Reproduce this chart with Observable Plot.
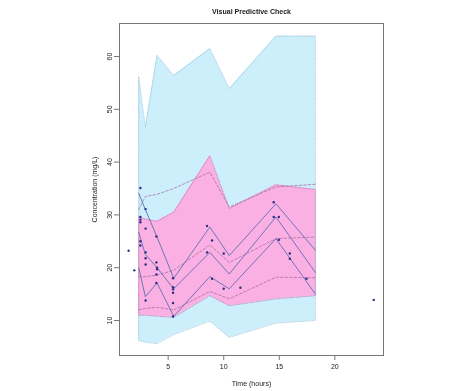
<!DOCTYPE html>
<html>
<head>
<meta charset="utf-8">
<script src="https://cdn.jsdelivr.net/npm/d3@7"></script>
<script src="https://cdn.jsdelivr.net/npm/@observablehq/plot@0.6"></script>
<style>
  html, body { margin: 0; padding: 0; background: #fff; }
  svg text { fill: #222; -webkit-font-smoothing: antialiased; }
  svg g[aria-label="text"], svg g[aria-label^="x-axis"], svg g[aria-label^="y-axis"] { filter: grayscale(1); }
</style>
</head>
<body>
<div id="chart"></div>
<script>
// Time bins (hours)
const binTimes = [2.35, 2.95, 4.0, 5.5, 8.75, 10.5, 14.7, 18.25];
// Outer (blue) prediction band
const blueLow  = [6.2, 5.9, 5.6, 7.3, 9.9, 6.8, 9.5, 10.0];
const blueHigh = [56.1, 46.6, 60.2, 56.4, 61.5, 53.9, 63.85, 63.85];
// Inner (pink) prediction band
const pinkLow  = [11.0, 11.0, 10.8, 10.6, 14.7, 12.8, 14.1, 14.7];
const pinkHigh = [29.6, 29.2, 28.8, 30.5, 41.2, 31.2, 35.7, 34.8];
// Simulated percentiles (dashed)
const simHigh = [31.0, 33.5, 33.9, 35.0, 38.1, 31.5, 35.3, 35.8];
const simMed  = [18.3, 18.3, 18.6, 19.5, 24.3, 21.0, 25.5, 25.8];
const simLow  = [12.0, 12.3, 12.5, 12.0, 15.5, 14.1, 18.2, 18.1];
// Observed percentiles (solid)
const obsHigh = [34.1, 31.0, 25.8, 18.0, 27.7, 22.3, 32.1, 23.3];
const obsMed  = [26.7, 22.5, 20.0, 16.0, 22.9, 18.8, 29.6, 19.1];
const obsLow  = [20.0, 14.5, 17.1, 10.8, 18.3, 16.0, 25.5, 15.0];
// Observations
const obsTime = [1.44, 1.95, 2.5, 2.97, 2.5, 2.5, 2.5, 2.97, 2.5, 2.5, 2.97, 2.97, 2.97, 2.97,
  3.94, 3.94, 4.0, 4.0, 3.94, 3.94, 5.44, 5.44, 5.44, 5.44, 5.44, 5.44,
  8.5, 8.95, 8.5, 8.95, 10.0, 10.0, 11.5, 14.5, 14.5, 14.96, 14.96, 15.95, 15.95, 17.45, 23.5];
const obsConc = [23.2, 19.5, 35.1, 31.1, 29.6, 29.1, 28.6, 27.4, 25.0, 24.2, 22.9, 21.8, 20.6, 13.8,
  25.9, 21.0, 20.0, 19.7, 18.7, 17.1, 18.0, 16.3, 15.9, 15.25, 13.3, 10.75,
  27.9, 25.15, 22.9, 17.9, 22.7, 16.0, 16.2, 32.4, 29.6, 29.6, 25.3, 22.7, 21.7, 17.9, 13.9];
const xTicks = [5, 10, 15, 20];
const yTicks = [10, 20, 30, 40, 50, 60];
const titleText = "Visual Predictive Check";

const bins = binTimes.map((t, i) => ({
  t, blueLow: blueLow[i], blueHigh: blueHigh[i], pinkLow: pinkLow[i], pinkHigh: pinkHigh[i],
  simHigh: simHigh[i], simMed: simMed[i], simLow: simLow[i],
  obsHigh: obsHigh[i], obsMed: obsMed[i], obsLow: obsLow[i]
}));
function polygon(lo, hi) {
  const up = binTimes.map((t, i) => ({t, v: hi[i]}));
  const dn = binTimes.map((t, i) => ({t, v: lo[i]})).reverse();
  return [...up, ...dn, up[0]];
}
const bluePoly = polygon(blueLow, blueHigh);
const pinkPoly = polygon(pinkLow, pinkHigh);
const obs = obsTime.map((t, i) => ({t, c: obsConc[i]}));

const font = "Liberation Sans, Arial, sans-serif";
const solidCol = "#5f6fae";
const dashCol = "#a0649f";

const chart = Plot.plot({
  width: 474,
  height: 391,
  marginLeft: 119,
  marginRight: 91,
  marginTop: 23,
  marginBottom: 36,
  style: {fontFamily: font, fontSize: "7px", color: "#222", background: "#fff"},
  x: {domain: [0.62, 24.38]},
  y: {domain: [3.37, 66.25]},
  marks: [
    Plot.areaY(bins, {x: "t", y1: "blueLow", y2: "blueHigh", fill: "#cdeefb"}),
    Plot.line(bluePoly, {x: "t", y: "v", stroke: "#9cc6dc", strokeWidth: 0.8, strokeDasharray: "1,1.5"}),
    Plot.areaY(bins, {x: "t", y1: "pinkLow", y2: "pinkHigh", fill: "#fab0e3"}),
    Plot.line(pinkPoly, {x: "t", y: "v", stroke: "#c27ab8", strokeWidth: 0.8, strokeDasharray: "1,1.5"}),
    Plot.lineY(bins, {x: "t", y: "simHigh", stroke: dashCol, strokeWidth: 0.7, strokeDasharray: "2.5,2"}),
    Plot.lineY(bins, {x: "t", y: "simMed", stroke: dashCol, strokeWidth: 0.7, strokeDasharray: "2.5,2"}),
    Plot.lineY(bins, {x: "t", y: "simLow", stroke: dashCol, strokeWidth: 0.7, strokeDasharray: "2.5,2"}),
    Plot.lineY(bins, {x: "t", y: "obsHigh", stroke: solidCol, strokeWidth: 0.9}),
    Plot.lineY(bins, {x: "t", y: "obsMed", stroke: solidCol, strokeWidth: 0.9}),
    Plot.lineY(bins, {x: "t", y: "obsLow", stroke: solidCol, strokeWidth: 0.9}),
    Plot.dot(obs, {x: "t", y: "c", r: 1.2, fill: "#2b2f85", stroke: "none"}),
    Plot.frame({stroke: "#777", strokeWidth: 1}),
    Plot.axisX({ticks: xTicks, tickSize: 5, tickPadding: 4, fontSize: 7, stroke: "#777", fill: "#222",
      label: "Time (hours)", labelAnchor: "center", labelArrow: "none", labelOffset: 30}),
    Plot.axisY({ticks: yTicks, tickSize: 5, tickPadding: 3, fontSize: 7, stroke: "#777", fill: "#222", tickRotate: -90,
      label: "Concentration (mg/L)", labelAnchor: "center", labelArrow: "none", labelOffset: 27}),
    Plot.text([titleText], {text: (d) => d, frameAnchor: "top", dy: -14, fontWeight: "bold", fontSize: 7, fill: "#111"})
  ]
});
document.getElementById("chart").appendChild(chart);
</script>
</body>
</html>
